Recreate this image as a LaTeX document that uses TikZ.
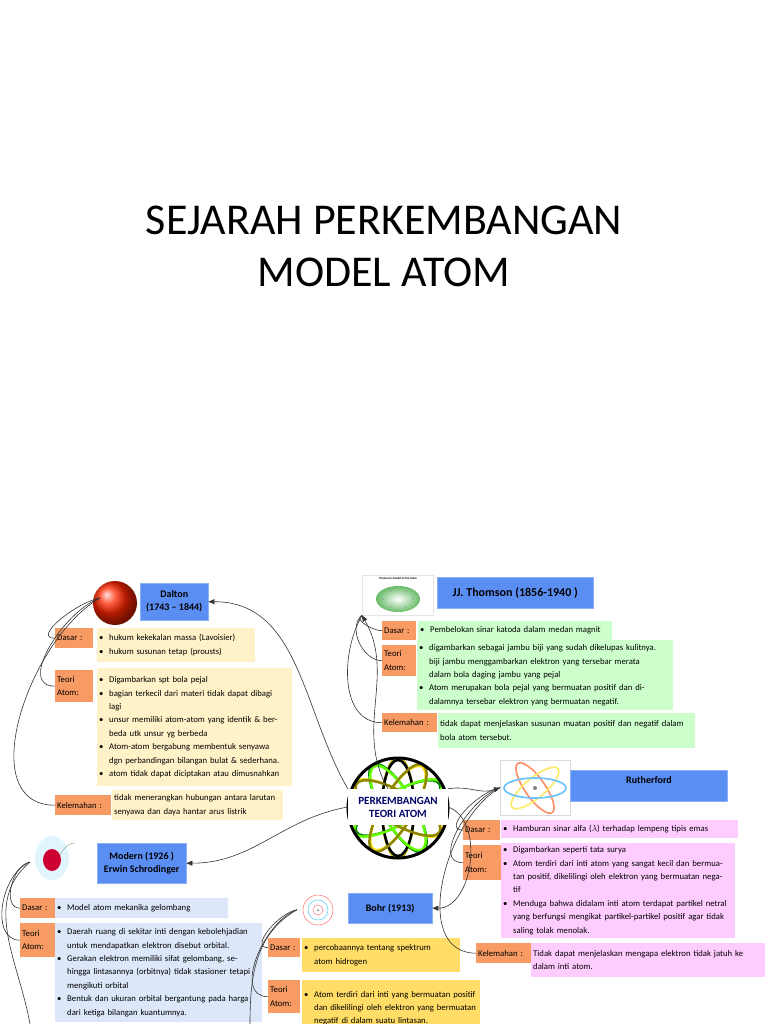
\documentclass[tikz,border=0pt]{standalone}
\usepackage{fontspec}
\setmainfont{Carlito}
\usetikzlibrary{arrows.meta}
\definecolor{lbl}{HTML}{F79A64}
\definecolor{ylw}{HTML}{FFF2C8}
\definecolor{grn}{HTML}{CCFFCC}
\definecolor{pnk}{HTML}{FFCCFF}
\definecolor{lbu}{HTML}{DCE7FA}
\definecolor{byl}{HTML}{FFDD66}
\definecolor{hdr}{HTML}{5B8EF2}
\newcommand{\bl}{\makebox[10pt][l]{\textbullet}}
\newcommand{\ct}{\hspace*{10pt}}
\newcommand{\bx}[7]{\node[anchor=north west,fill=#6,inner sep=2pt,minimum width={#4-#2},minimum height={#5-#3},text width={#4-#2-4},align=left,font=\fontsize{8.7}{13.4}\selectfont] (#1) at (#2,#3) {#7};}
\newcommand{\hd}[6]{\node[anchor=north west,fill=hdr,draw=hdr!70!white,inner sep=2pt,minimum width={#4-#2},minimum height={#5-#3}] (#1) at (#2,#3) {};}
\tikzset{con/.style={draw=black!80,line width=0.6pt},arr/.style={con,-{Triangle[length=6pt,width=5pt]}}}
\begin{document}
\begin{tikzpicture}[x=1pt,y=-1pt]
\useasboundingbox (0,0) rectangle (768,1024);
\node[font=\fontsize{44}{52}\selectfont,align=center] (title) at (384,246) {SEJARAH PERKEMBANGAN\\MODEL ATOM};
% ---------- Dalton
\shade[ball color=red!70!orange] (115,603) circle (22);
\coordinate (dimg) at (100,598);
\hd{dh}{140}{583}{208}{620}{9}
\node[font=\fontsize{10}{13}\selectfont\bfseries,align=center] at (dh) {Dalton\\(1743 – 1844)};
\bx{dd}{55}{628}{93}{648}{lbl}{Dasar :}
\bx{ddt}{97}{628}{255}{662}{ylw}{\bl hukum kekekalan massa (Lavoisier)\\\bl hukum susunan tetap (prousts)}
\bx{dt}{55}{670}{93}{702}{lbl}{Teori\\Atom:}
\bx{dtt}{97}{668}{292}{786}{ylw}{\bl Digambarkan spt bola pejal\\\bl bagian terkecil dari materi tidak dapat dibagi\\\ct lagi\\\bl unsur memiliki atom-atom yang identik \& ber-\\\ct beda utk unsur yg berbeda\\\bl Atom-atom bergabung membentuk senyawa\\\ct dgn perbandingan bilangan bulat \& sederhana.\\\bl atom tidak dapat diciptakan atau dimusnahkan}
\bx{dk}{55}{795}{111}{815}{lbl}{Kelemahan :}
\bx{dkt}{112}{790}{283}{820}{ylw}{tidak menerangkan hubungan antara larutan\\senyawa dan daya hantar arus listrik}
% ---------- Thomson
\node[draw=black!10,minimum width=71,minimum height=40,anchor=north west] (timg) at (362,575) {};
\shade[inner color=white,outer color=green!55!black!60] (398,599) ellipse (22 and 13);
\node[font=\fontsize{3}{3}\selectfont\bfseries] at (398,578) {Thomson's Model of the Atom};
\foreach \a in {0,60,...,300} \fill[black!40] ({398+15*cos(\a)},{599+9*sin(\a)}) circle (0.8);
\hd{th}{437}{577}{593}{608}{11}
\node[font=\fontsize{12}{14}\selectfont\bfseries] at (th) {JJ. Thomson (1856-1940 )};
\bx{td}{382}{621}{416}{640}{lbl}{Dasar :}
\bx{tdt}{418}{621}{612}{640}{grn}{\bl Pembelokan sinar katoda dalam medan magnit}
\bx{tt}{382}{645}{416}{676}{lbl}{Teori\\Atom:}
\bx{ttt}{417}{640}{673}{710}{grn}{\bl digambarkan sebagai jambu biji yang sudah dikelupas kulitnya.\\\ct biji jambu menggambarkan elektron yang tersebar merata\\\ct dalam bola daging jambu yang pejal\\\bl Atom merupakan bola pejal yang bermuatan positif dan di-\\\ct dalamnya tersebar elektron yang bermuatan negatif.}
\bx{tk}{382}{713}{437}{732}{lbl}{Kelemahan :}
\bx{tkt}{438}{713}{695}{748}{grn}{tidak dapat menjelaskan susunan muatan positif dan negatif dalam\\bola atom tersebut.}
% ---------- Rutherford
\node[draw=black!15,minimum width=70,minimum height=55,anchor=north west] (rimg) at (500,760) {};
\begin{scope}[line width=1.6pt]
\draw[red!50!orange!60] (535,788) ellipse [x radius=30,y radius=10,rotate=-55];
\draw[yellow!80!orange!60] (535,788) ellipse [x radius=30,y radius=10,rotate=40];
\draw[blue!40!cyan!60] (535,788) ellipse (31 and 10);
\end{scope}
\fill[gray] (535,788) circle (2);
\hd{rh}{570}{770}{727}{801}{9}
\node[font=\fontsize{10}{12}\selectfont\bfseries] at (649,780) {Rutherford};
\bx{rd}{463}{820}{500}{840}{lbl}{Dasar :}
\bx{rdt}{501}{820}{738}{838}{pnk}{\bl Hamburan sinar alfa ($\lambda$) terhadap lempeng tipis emas}
\bx{rt}{463}{845}{501}{880}{lbl}{Teori\\Atom:}
\bx{rtt}{501}{843}{735}{938}{pnk}{\bl Digambarkan seperti tata surya\\\bl Atom terdiri dari inti atom yang sangat kecil dan bermua-\\\ct tan positif, dikelilingi oleh elektron yang bermuatan nega-\\\ct tif\\\bl Menduga bahwa didalam inti atom terdapat partikel netral\\\ct yang berfungsi mengikat partikel-partikel positif agar tidak\\\ct saling tolak menolak.}
\bx{rk}{476}{943}{531}{963}{lbl}{Kelemahan :}
\bx{rkt}{531}{943}{765}{977}{pnk}{Tidak dapat menjelaskan mengapa elektron tidak jatuh ke\\dalam inti atom.}
% ---------- Modern
\fill[cyan!12] (52,858) ellipse (17 and 22);
\fill[purple!80!red] (52,860) ellipse (9 and 11);
\draw[black!50,line width=0.3pt] (60,855) to[out=60,in=180] (75,843);
\coordinate (mimg) at (30,862);
\hd{mh}{97}{843}{186}{883}{9}
\node[font=\fontsize{10}{13}\selectfont\bfseries,align=center] at (mh) {Modern (1926 )\\Erwin Schrodinger};
\bx{md}{20}{898}{55}{918}{lbl}{Dasar :}
\bx{mdt}{55}{898}{228}{918}{lbu}{\bl Model atom mekanika gelombang}
\bx{mt}{20}{923}{55}{957}{lbl}{Teori\\Atom:}
\bx{mtt}{55}{923}{262}{1022}{lbu}{\bl Daerah ruang di sekitar inti dengan kebolehjadian\\\ct untuk mendapatkan elektron disebut orbital.\\\bl Gerakan elektron memiliki sifat gelombang, se-\\\ct hingga lintasannya (orbitnya) tidak stasioner tetapi\\\ct mengikuti orbital\\\bl Bentuk dan ukuran orbital bergantung pada harga\\\ct dari ketiga bilangan kuantumnya.}
% ---------- Bohr
\node[minimum width=48,minimum height=45,anchor=north west] (bimg) at (297,887) {};
\draw[red!50,line width=0.6pt] (318,910) circle (15);
\draw[cyan!60,line width=0.6pt] (318,910) circle (10);
\draw[red!50,line width=0.5pt] (318,910) circle (5);
\fill[gray] (318,910) circle (1);
\hd{bh}{348}{893}{432}{923}{9}
\node[font=\fontsize{10}{12}\selectfont\bfseries] at (bh) {Bohr (1913)};
\bx{bd}{268}{938}{300}{957}{lbl}{Dasar :}
\bx{bdt}{302}{938}{460}{972}{byl}{\bl percobaannya tentang spektrum\\\ct atom hidrogen}
\bx{bt}{268}{980}{300}{1013}{lbl}{Teori\\Atom:}
\bx{btt}{302}{980}{480}{1036}{byl}{\bl Atom terdiri dari inti yang bermuatan positif\\\ct dan dikelilingi oleh elektron yang bermuatan\\\ct negatif di dalam suatu lintasan.}
% ---------- globe
\begin{scope}[line width=2.5pt]
\foreach \r/\c in {0/olive!70!yellow,30/green!50!black,60/yellow!80!orange,90/black,120/green!60!yellow,150/olive} {
\draw[\c] (398,808) ellipse [x radius=48,y radius=16,rotate=\r];
\draw[\c] (398,808) ellipse [x radius=16,y radius=50,rotate=\r];}
\draw[black,line width=3pt] (398,808) circle (50);
\end{scope}
\node[fill=white,minimum width=100,minimum height=36,font=\fontsize{11}{13}\selectfont\bfseries,text=blue!40!black,align=center] (glb) at (398,807) {PERKEMBANGAN\\TEORI ATOM};
% ---------- main arrows
\draw[arr] (glb.north west) to[out=120,in=0] (dh.east);
\draw[arr] ([xshift=-10pt]glb.north) to[out=120,in=-60] (timg.south west);
\draw[arr] (glb.north east) to[out=10,in=200] (rimg.west);
\draw[arr] (glb.east) to[out=-20,in=0] (bh.east);
\draw[arr] (glb.west) to[out=190,in=0] (mh.east);
% ---------- branch lines
\draw[con] (dimg) to[out=190,in=180] (dd.west);
\draw[con] (dimg) to[out=200,in=180] (dt.west);
\draw[con] (dimg) to[out=210,in=180] (dk.west);
\draw[con] (timg.south west) to[out=200,in=180] (td.west);
\draw[con] (timg.south west) to[out=220,in=180] (tt.west);
\draw[con] (timg.south west) to[out=240,in=180] (tk.west);
\draw[con] (rimg.west) to[out=190,in=180] (rd.west);
\draw[con] (rimg.west) to[out=200,in=180] (rt.west);
\draw[con] (rimg.west) to[out=210,in=180] (rk.west);
\draw[con] (mimg) to[out=190,in=180] (md.west);
\draw[con] (mimg) to[out=200,in=180] (mt.west);
\draw[con] (mimg) to[out=220,in=100] (30,1024);
\draw[con] (bimg.west) to[out=190,in=180] (bd.west);
\draw[con] (bimg.west) to[out=200,in=180] (bt.west);
\draw[con] (bimg.west) to[out=210,in=90] (250,1024);
\end{tikzpicture}
\end{document}
